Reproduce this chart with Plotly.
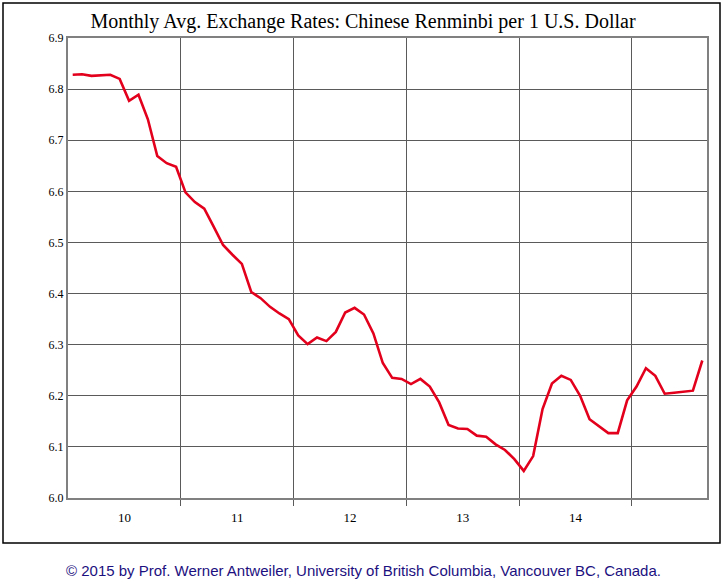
import plotly.graph_objects as go

# monthly averages, Jan 2010 .. Aug 2015 (CNY per USD)
rate_2010 = [6.828, 6.829, 6.826, 6.827, 6.828, 6.820, 6.777, 6.789, 6.741, 6.669, 6.655, 6.648]
rate_2011 = [6.598, 6.579, 6.566, 6.531, 6.495, 6.476, 6.458, 6.403, 6.391, 6.374, 6.361, 6.350]
rate_2012 = [6.318, 6.301, 6.314, 6.307, 6.325, 6.363, 6.372, 6.359, 6.322, 6.264, 6.235, 6.233]
rate_2013 = [6.223, 6.233, 6.218, 6.187, 6.143, 6.136, 6.135, 6.122, 6.120, 6.105, 6.094, 6.076]
rate_2014 = [6.053, 6.082, 6.174, 6.224, 6.239, 6.231, 6.200, 6.154, 6.141, 6.127, 6.127, 6.191]
rate_2015 = [6.218, 6.254, 6.239, 6.204, 6.206, 6.208, 6.210, 6.269]

start_year = 2010
year_labels = ["10", "11", "12", "13", "14"]
year_bounds = [2011, 2012, 2013, 2014, 2015]
y_ticks = [6.0, 6.1, 6.2, 6.3, 6.4, 6.5, 6.6, 6.7, 6.8, 6.9]

rates = rate_2010 + rate_2011 + rate_2012 + rate_2013 + rate_2014 + rate_2015
# place each monthly point at the middle of its month
months = [start_year + (i + 0.5) / 12 for i in range(len(rates))]

fig = go.Figure()
fig.add_trace(
    go.Scatter(
        x=months,
        y=rates,
        mode="lines",
        line=dict(color="#e2001c", width=2.6),
        showlegend=False,
        hoverinfo="x+y",
    )
)

grid_color = "#5a5a5a"
border_color = "#808080"

fig.update_layout(
    width=726,
    height=580,
    margin=dict(l=68, r=19, t=38, b=82),
    paper_bgcolor="white",
    plot_bgcolor="white",
    font=dict(family="Liberation Serif, Times New Roman, serif", color="black", size=12),
    title=dict(
        text="Monthly Avg. Exchange Rates: Chinese Renminbi per 1 U.S. Dollar",
        x=0.5,
        xref="container",
        xanchor="center",
        y=1 - 21 / 580,
        yref="container",
        yanchor="middle",
        font=dict(family="Liberation Serif, Times New Roman, serif", size=20, color="black"),
    ),
    xaxis=dict(
        range=[start_year, start_year + len(rates) / 12],
        tickvals=[b - 0.5 for b in year_bounds],
        ticktext=year_labels,
        ticks="",
        ticklen=0,
        showgrid=False,
        zeroline=False,
        showline=True,
        mirror=True,
        linecolor=border_color,
        linewidth=2,
        ticklabelstandoff=6,
        tickfont=dict(size=13),
        minor=dict(
            tickvals=year_bounds,
            showgrid=True,
            gridcolor=grid_color,
            gridwidth=1,
            ticks="outside",
            ticklen=6,
            tickcolor=grid_color,
            tickwidth=1,
        ),
    ),
    yaxis=dict(
        range=[6.0, 6.9],
        tickvals=y_ticks,
        tickformat=".1f",
        ticks="",
        ticklen=0,
        showgrid=True,
        gridcolor=grid_color,
        gridwidth=1,
        zeroline=False,
        showline=True,
        mirror=True,
        linecolor=border_color,
        linewidth=2,
        ticklabelstandoff=0,
        tickfont=dict(size=12),
    ),
    shapes=[
        # outer frame around the chart
        dict(
            type="rect",
            xref="paper",
            yref="paper",
            x0=(3 - 68) / 639,
            x1=(720 - 68) / 639,
            y0=(498 - 543) / 460,
            y1=(498 - 3) / 460,
            line=dict(color="black", width=1.5),
            fillcolor="rgba(0,0,0,0)",
            layer="below",
        )
    ],
    annotations=[
        dict(
            text="© 2015 by Prof. Werner Antweiler, University of British Columbia, Vancouver BC, Canada.",
            xref="paper",
            yref="paper",
            x=(363.5 - 68) / 639,
            y=(498 - 570) / 460,
            xanchor="center",
            yanchor="middle",
            showarrow=False,
            font=dict(family="Liberation Sans, Arial, Helvetica, sans-serif", size=15, color="#1c1080"),
        )
    ],
)

# the page's default body margin would push the 726x580 figure off the window
fig.write_html(
    "out.html",
    config={"displayModeBar": False},
    post_script="document.body.style.margin = '0';",
)
